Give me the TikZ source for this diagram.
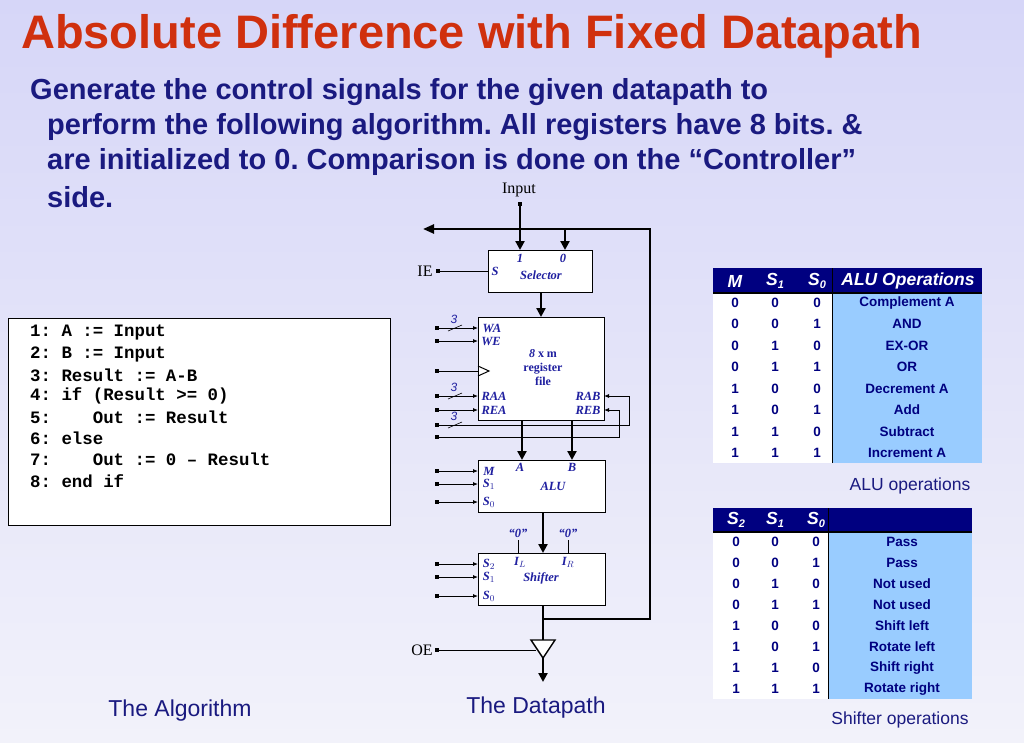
\documentclass[tikz,border=0pt]{standalone}
\usepackage{fontspec}
\setmainfont{Liberation Sans}
\newfontfamily\dpfont{Liberation Serif}
\newfontfamily\codefont{Liberation Mono}
\usetikzlibrary{arrows.meta,calc}
\frenchspacing
\definecolor{navy}{HTML}{1A1A80}
\definecolor{titred}{HTML}{D0300E}
\definecolor{hdr}{HTML}{000080}
\definecolor{lblue}{HTML}{99CCFF}
\definecolor{dpblue}{HTML}{2020A0}
\tikzset{
  blk/.style={draw,line width=1.3pt,fill=white},
  lab/.style={font=\dpfont\bfseries\itshape\fontsize{12.5}{13}\selectfont,text=dpblue,inner sep=0pt},
  thick wire/.style={line width=2.4pt},
  bigarr/.style={line width=2.4pt,-{Triangle[length=9pt,width=9pt]}},
  sarr/.style={line width=0.8pt,-{Latex[length=5pt,width=4pt]}},
  pin/.style={fill,inner sep=0pt,minimum size=4.5pt},
  hd/.style={text=white,font=\bfseries\itshape\fontsize{17.5}{18}\selectfont},
  cell/.style={text=hdr,font=\bfseries\fontsize{13.5}{14}\selectfont},
  code/.style={anchor=west,font=\codefont\bfseries\fontsize{17.4}{19}\selectfont,inner sep=0pt},
}
\begin{document}
\begin{tikzpicture}[x=1pt,y=-1pt]
\shade[top color={rgb,255:red,214;green,214;blue,248},bottom color={rgb,255:red,242;green,242;blue,250}] (0,0) rectangle (1024,742);
\useasboundingbox (0,0) rectangle (1024,742);
% title and text
\node[anchor=west,text=titred,font=\bfseries\fontsize{47}{52}\selectfont,inner sep=0pt] (title) at (21,36) {Absolute Difference with Fixed Datapath};
\begin{scope}[every node/.style={anchor=west,text=navy,font=\bfseries\fontsize{29}{32}\selectfont,inner sep=0pt}]
\node (t1) at (30,92) {Generate the control signals for the given datapath to};
\node (t2) at (47,127) {perform the following algorithm. All registers have 8 bits. \&};
\node (t3) at (47,162) {are initialized to 0. Comparison is done on the “Controller”};
\node (t4) at (47,197) {side.};
\end{scope}
% algorithm
\node[draw,fill=white,minimum width=382,minimum height=207,anchor=north west,line width=0.8pt] (algbox) at (8,318) {};
\node[code] (c1) at (30,333) {1: A := Input};
\node[code] (c2) at (30,354) {2: B := Input};
\node[code] (c3) at (30,375) {3: Result := A-B};
\node[code] (c4) at (30,396) {4: if (Result >= 0)};
\node[code] (c5) at (30,417) {5:\ \ \ \ Out := Result};
\node[code] (c6) at (30,438) {6: else};
\node[code] (c7) at (30,459) {7:\ \ \ \ Out := 0 – Result};
\node[code] (c8) at (30,481) {8: end if};
\node[text=navy,font=\fontsize{23}{26}\selectfont] (capA) at (180,711) {The Algorithm};
\node[text=navy,font=\fontsize{23}{26}\selectfont] (capD) at (536,708) {The Datapath};
% ===== datapath
\node[blk,anchor=north west,minimum width=104,minimum height=42] (sel) at (488,250) {};
\node[blk,anchor=north west,minimum width=126,minimum height=103] (rf) at (478,317) {};
\node[blk,anchor=north west,minimum width=127,minimum height=52] (alu) at (478,460) {};
\node[blk,anchor=north west,minimum width=127,minimum height=52] (sh) at (478,553) {};
\node[font=\dpfont\fontsize{16}{17}\selectfont,inner sep=1pt] (inp) at (519,190) {Input};
\node[pin] (inpin) at (520,204) {};
\draw[bigarr] (inpin) -- (520,250);
\coordinate (fbr) at (650,229);
\coordinate (fbl) at (423,229);
\coordinate (jn) at (543,619);
\draw[thick wire,-{Triangle[length=11pt,width=9pt]}] (jn) -| (fbr) -- (fbl);
\draw[bigarr] (565,229) -- (565,250);
% selector labels
\node[lab] (s1) at (520,258) {1};
\node[lab] (s0) at (563,258) {0};
\node[lab] (sS) at (495,271) {S};
\node[lab] (sSel) at (541,275) {Selector};
\node[font=\dpfont\fontsize{16}{17}\selectfont,inner sep=0pt] (IE) at (425,271) {IE};
\node[pin] (iep) at (438,271) {};
\draw[line width=0.8pt] (iep) -- (488,271);
\draw[bigarr] (541,292) -- (541,317);
% register file labels
\node[lab] (wa) at (492,328) {WA};
\node[lab] (we) at (491,341) {WE};
\node[lab,align=center,font=\dpfont\bfseries\fontsize{12}{14}\selectfont] (rft) at (543,368) {\textit{8} x m\\register\\file};
\node[lab] (raa) at (494,396) {RAA};
\node[lab] (rea) at (494,410) {REA};
\node[lab] (rab) at (588,396) {RAB};
\node[lab] (reb) at (588,410) {REB};
\draw[line width=1pt] (478,366) -- (489,371) -- (478,376);
\foreach \y/\n in {328/pa,341/pb,371/pc,396/pd,410/pe,425/pf,437/pg}{\node[pin] (\n) at (437,\y) {};}
\draw[sarr] (pa) -- (478,328);
\draw[sarr] (pb) -- (478,341);
\draw[line width=0.8pt] (pc) -- (478,371);
\draw[sarr] (pd) -- (478,396);
\draw[sarr] (pe) -- (478,410);
\draw[line width=0.8pt] (pf) -- (629,425) -- (629,396);
\draw[sarr] (629,396) -- (604,396);
\draw[line width=0.8pt] (pg) -- (619,437) -- (619,410);
\draw[sarr] (619,410) -- (604,410);
\foreach \y in {328,396,425}{
  \draw[line width=0.6pt] (448,\y+3) -- (462,\y-3);
  \node[lab,font=\fontsize{12}{12}\selectfont\itshape] at (454,\y-9) {3};}
\draw[bigarr] (522,420) -- (522,460);
\draw[bigarr] (572,420) -- (572,460);
% ALU
\node[lab] (am) at (489,471) {M};
\node[lab] (as1) at (489,484) {S$_1$};
\node[lab] (as0) at (489,502) {S$_0$};
\node[lab] (aA) at (520,467) {A};
\node[lab] (aB) at (572,467) {B};
\node[lab] (aT) at (553,486) {ALU};
\foreach \y/\n in {471/qa,484/qb,502/qc}{\node[pin] (\n) at (437,\y) {}; \draw[sarr] (\n) -- (478,\y);}
\draw[bigarr] (543,512) -- (543,553);
% shifter
\node[lab] (z1) at (518,533) {“0”};
\node[lab] (z2) at (568,533) {“0”};
\draw[line width=0.8pt] (518,540) -- (518,553) (568,540) -- (568,553);
\node[lab] (hs2) at (489,564) {S$_2$};
\node[lab] (hs1) at (489,577) {S$_1$};
\node[lab] (hs0) at (489,596) {S$_0$};
\node[lab] (hil) at (520,562) {I$_L$};
\node[lab] (hir) at (568,562) {I$_R$};
\node[lab] (hT) at (541,578) {Shifter};
\foreach \y/\n in {564/ra,577/rb,596/rc}{\node[pin] (\n) at (437,\y) {}; \draw[sarr] (\n) -- (478,\y);}
\draw[thick wire] (543,605) -- (jn) -- (543,640);
\draw[line width=1.4pt,fill=white] (531,640) -- (555,640) -- (543,658) -- cycle;
\draw[bigarr] (543,658) -- (543,682);
\node[font=\dpfont\fontsize{16}{17}\selectfont,inner sep=0pt] (OE) at (422,650) {OE};
\node[pin] (oep) at (437,650) {};
\draw[line width=0.8pt] (oep) -- (536,650);
% ===== ALU table
\fill[white] (713,293) rectangle (832,463);
\fill[lblue] (832,293) rectangle (982,463);
\fill[hdr] (713,268) rectangle (982,293);
\draw[line width=1.5pt] (713,293) -- (982,293);
\draw[line width=1pt] (832,268) -- (832,463);
\node[hd] (h1) at (735,281) {M};
\node[hd] (h2) at (775,281) {S\raisebox{-3pt}{\fontsize{11}{11}\selectfont 1}};
\node[hd] (h3) at (817,281) {S\raisebox{-3pt}{\fontsize{11}{11}\selectfont 0}};
\node[hd] (h4) at (908,281) {ALU Operations};
\foreach \y/\m/\a/\b/\op [count=\i] in {303/0/0/0/Complement A,324/0/0/1/AND,346/0/1/0/EX-OR,367/0/1/1/OR,389/1/0/0/Decrement A,410/1/0/1/Add,432/1/1/0/Subtract,453/1/1/1/Increment A}{
  \node[cell] (am\i) at (735,\y) {\m};
  \node[cell] (aa\i) at (775,\y) {\a};
  \node[cell] (ab\i) at (817,\y) {\b};
  \node[cell] (ao\i) at (907,\y) {\op};}
\node[text=navy,font=\fontsize{17.5}{18}\selectfont] (alucap) at (910,486) {ALU operations};
% ===== Shifter table
\fill[white] (713,532) rectangle (828,699);
\fill[lblue] (828,532) rectangle (972,699);
\fill[hdr] (713,508) rectangle (972,532);
\draw[line width=1.5pt] (713,532) -- (972,532);
\draw[line width=1pt] (828,508) -- (828,699);
\node[hd] (g1) at (736,520) {S\raisebox{-3pt}{\fontsize{11}{11}\selectfont 2}};
\node[hd] (g2) at (775,520) {S\raisebox{-3pt}{\fontsize{11}{11}\selectfont 1}};
\node[hd] (g3) at (816,520) {S\raisebox{-3pt}{\fontsize{11}{11}\selectfont 0}};
\foreach \y/\m/\a/\b/\op [count=\i] in {542/0/0/0/Pass,563/0/0/1/Pass,584/0/1/0/Not used,605/0/1/1/Not used,626/1/0/0/Shift left,647/1/0/1/Rotate left,668/1/1/0/Shift right,689/1/1/1/Rotate right}{
  \node[cell] (sm\i) at (736,\y) {\m};
  \node[cell] (sa\i) at (775,\y) {\a};
  \node[cell] (sb\i) at (816,\y) {\b};
  \node[cell] (so\i) at (902,\y) {\op};}
\node[text=navy,font=\fontsize{17.5}{18}\selectfont] (shcap) at (900,720) {Shifter operations};
\end{tikzpicture}
\end{document}
